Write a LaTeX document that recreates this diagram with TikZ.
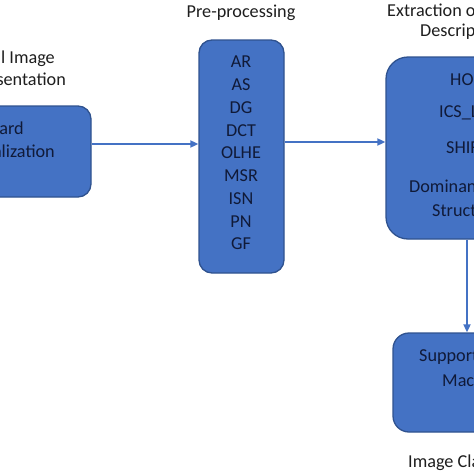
\documentclass[tikz,border=0pt]{standalone}
\usepackage{fontspec}
\setmainfont{Carlito}
\usepackage{tikz}
\usetikzlibrary{arrows.meta}

\definecolor{boxblue}{RGB}{68,114,196}
\definecolor{boxedge}{RGB}{47,82,143}
\definecolor{boxtext}{RGB}{16,26,56}
\definecolor{labeltext}{RGB}{30,30,30}

\begin{document}
\begin{tikzpicture}[x=1pt, y=-1pt,
  stage/.style = {draw = boxedge, line width = 1.3pt, fill = boxblue, inner sep = 0pt},
  boxlabel/.style = {text = boxtext, inner sep = 0pt, font = \fontsize{18.2}{22}\selectfont},
  title/.style = {text = labeltext, inner sep = 0pt, font = \fontsize{18.2}{22}\selectfont},
  flow/.style = {draw = boxblue, line width = 1.8pt, -{Triangle[length = 8pt, width = 7pt]}}]
\useasboundingbox (0,0) rectangle (474,474);
\clip (0,0) rectangle (474,474);
% Boxes
\node[stage, rounded corners = 13pt, minimum width = 151pt, minimum height = 91pt] (norm) at (15.5,151.5) {};
\node[stage, rounded corners = 13pt, minimum width = 85pt, minimum height = 233pt] (prep) at (241.5,156.5) {};
\node[stage, rounded corners = 22pt, minimum width = 180pt, minimum height = 182pt] (feat) at (476,148) {};
\node[stage, rounded corners = 16pt, minimum width = 170pt, minimum height = 99pt] (svm) at (478,382.5) {};
% Titles
\node[title, anchor = east] (origA) at (55,59) {Original Image};
\node[title, anchor = east] (origB) at (66,81) {Representation};
\node[title] (preptitle) at (241,13) {Pre-processing};
\node[title, anchor = west] (featA) at (387,10) {Extraction of Feature};
\node[title, anchor = west] (featB) at (420,32) {Descriptors};
\node[title, anchor = west] (classtitle) at (408,463) {Image Classification};
% Box texts
\node[boxlabel, anchor = east] (normA) at (24,128) {Standard};
\node[boxlabel, anchor = east] (normB) at (55,151) {Normalization};
\foreach \name [count = \i] in {AR, AS, DG, DCT, OLHE, MSR, ISN, PN, GF}
  \node[boxlabel] (pre\i) at (241,{62 + (\i - 1) * 22.75}) {\name};
\node[boxlabel, anchor = west] (hog) at (450,80) {HOG};
\node[boxlabel, anchor = west] (lbp) at (439,113) {ICS\_LBP};
\node[boxlabel, anchor = west] (shift) at (446,148) {SHIFT};
\node[boxlabel, anchor = west] (domA) at (409,186) {Dominant};
\node[boxlabel, anchor = west] (domB) at (432,211) {Structure};
\node[boxlabel, anchor = west] (svmA) at (419,357) {Support Vector};
\node[boxlabel, anchor = west] (svmB) at (442,380) {Machine};
% Arrows
\coordinate (drop) at (467,0);
\draw[flow] ([yshift = 7.5pt]norm.east) -- ([yshift = 7.5pt]norm.east -| prep.west);
\draw[flow] ([yshift = 6pt]feat.west -| prep.east) -- ([yshift = 6pt]feat.west);
\draw[flow] (feat.south -| drop) -- (svm.north -| drop);
\end{tikzpicture}
\end{document}
